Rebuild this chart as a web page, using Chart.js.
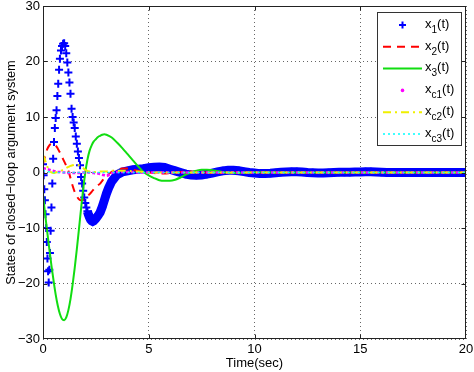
<!DOCTYPE html>
<html>
<head>
<meta charset="utf-8">
<title>States of closed-loop argument system</title>
<script src="https://cdn.jsdelivr.net/npm/chart.js@4.4.1/dist/chart.umd.min.js"></script>
<style>
    body { margin: 0; background: #ffffff; }
    #statesChart { display: block; }
</style>
</head>
<body>
<canvas id="statesChart" width="474" height="372"></canvas>
<script>
// ---- data ----
const xTicks = [0, 5, 10, 15, 20];
const yTicks = [-30, -20, -10, 0, 10, 20, 30];

// x1(t): solver samples, sparse at first, dense later on
const x1Time = [
    0, 0.03, 0.06, 0.09, 0.12, 0.15, 0.18, 0.21, 0.24, 0.27,
    0.3, 0.33, 0.36, 0.4, 0.44, 0.48, 0.52, 0.56, 0.6, 0.64,
    0.68, 0.72, 0.76, 0.8, 0.85, 0.9, 0.95, 1.0, 1.05, 1.1,
    1.15, 1.2, 1.25, 1.3, 1.35, 1.4, 1.45, 1.5, 1.55, 1.6,
    1.65, 1.7, 1.75, 1.8, 1.85, 1.9, 1.95, 2.0, 2.05, 2.1,
    2.15, 2.2, 2.25, 2.3, 2.35, 2.4, 2.5, 2.6, 2.7, 2.8,
    2.9, 3.0, 3.1, 3.25, 3.5, 3.75, 4.0, 4.25, 4.5, 4.75,
    5.0, 5.25, 5.5, 5.75, 6.0, 6.25, 6.5, 6.75, 7.0, 7.25,
    7.5, 7.75, 8.0, 8.25, 8.5, 8.75, 9.0, 9.25, 9.5, 9.75,
    10.0, 10.25, 10.5, 10.75, 11.0, 11.25, 11.5, 11.75, 12.0, 12.25,
    12.5, 12.75, 13.0, 13.25, 13.5, 13.75, 14.0, 14.25, 14.5, 14.75,
    15.0, 15.25, 15.5, 15.75, 16.0, 16.25, 16.5, 16.75, 17.0, 17.25,
    17.5, 17.75, 18.0, 18.25, 18.5, 18.75, 19.0, 19.25, 19.5, 19.75,
    20.0
];
const x1Vals = [
    1.5, -0.5, -3, -5, -7.5, -10, -12.5, -15.5, -17.8, -19.8,
    -17.5, -14.5, -10.5, -6.3, -2, 2.5, 5.5, 8, 9.8, 11.2,
    13.8, 16, 18.5, 20.5, 22, 22.8, 23.2, 23.3, 22.8, 21.5,
    19.8, 18, 16.2, 14.2, 11.5, 10, 9, 8, 6.5, 5.2,
    3.8, 2.6, 1.3, -0.8, -2, -3.3, -4.5, -5.5, -6.3, -7,
    -7.6, -8.1, -8.5, -8.7, -8.8, -8.7, -8.3, -7.8, -7.2, -6.2,
    -5, -3.8, -2.8, -1.6, -0.4, 0.1, 0.3, 0.5, 0.6, 0.7,
    0.85, 0.95, 1, 0.9, 0.6, 0.3, 0, -0.3, -0.45, -0.5,
    -0.45, -0.3, -0.1, 0.1, 0.3, 0.4, 0.4, 0.3, 0.15, 0,
    -0.1, -0.2, -0.2, -0.15, -0.05, 0.05, 0.1, 0.15, 0.15, 0.1,
    0, -0.05, -0.1, -0.1, -0.05, 0, 0.05, 0.05, 0.05, 0.1,
    0.1, 0.15, 0.15, 0.1, 0.05, 0, 0, 0, 0, 0,
    0, 0, 0, 0, 0, 0, 0, 0, 0, 0,
    0
];

// the other states share one time grid
const lineTime = [
    0, 0.1, 0.2, 0.3, 0.4, 0.5, 0.6, 0.7, 0.8, 0.9,
    1.0, 1.1, 1.2, 1.3, 1.4, 1.5, 1.6, 1.7, 1.8, 1.9,
    2.0, 2.1, 2.2, 2.3, 2.4, 2.5, 2.6, 2.7, 2.8, 2.9,
    3.0, 3.25, 3.5, 3.75, 4.0, 4.25, 4.5, 4.75, 5.0, 5.25,
    5.5, 5.75, 6.0, 6.25, 6.5, 6.75, 7.0, 7.25, 7.5, 7.75,
    8, 9, 10, 11, 12, 13, 14, 15, 16, 17,
    18, 19, 20
];
const x2Vals = [
    1.5, 3.0, 4.2, 4.9, 5.2, 5.2, 4.9, 4.3, 3.6, 2.8,
    2.0, 1.2, 0.3, -1.0, -2.4, -3.5, -4.3, -4.8, -5.0, -4.9,
    -4.6, -4.3, -3.9, -3.5, -3.0, -2.6, -2.3, -2.0, -1.5, -1.0,
    -0.6, 0.1, 0.5, 0.7, 0.7, 0.5, 0.3, 0.1, 0, -0.1,
    -0.2, -0.2, -0.1, 0, 0.1, 0.2, 0.2, 0.1, 0, 0,
    -0.1, 0, 0, 0, 0, 0, 0, 0, 0, 0,
    0, 0, 0
];
const x3Vals = [
    -4, -7.5, -10.7, -13.8, -16.8, -19.5, -22, -24, -25.5, -26.4,
    -26.6, -26.1, -24.8, -22.8, -20.2, -17.2, -13.8, -10.2, -6.5, -3,
    0, 2.3, 3.9, 4.9, 5.6, 6.0, 6.4, 6.6, 6.8, 6.9,
    6.8, 6.3, 5.4, 4.4, 3.3, 2.2, 1.1, 0.1, -0.5, -1.0,
    -1.4, -1.5, -1.5, -1.3, -0.9, -0.4, 0, 0.3, 0.5, 0.5,
    0.4, -0.1, 0.05, 0, 0, 0, 0, 0, 0, 0,
    0, 0, 0
];
const xc1Vals = [
    0.8, 0.7, 0.6, 0.5, 0.4, 0.3, 0.2, 0.1, 0.1, 0,
    0, 0, -0.1, -0.1, -0.1, -0.1, -0.1, -0.1, 0, 0,
    0, 0, 0, -0.1, -0.1, -0.2, -0.2, -0.3, -0.4, -0.5,
    -0.6, -0.1, 0.1, 0.1, 0.1, 0.1, 0, 0, 0, 0,
    0, 0, 0, 0, 0, 0, 0, 0, 0, 0,
    0, 0, 0, 0, 0, 0, 0, 0, 0, 0,
    0, 0, 0
];
const xc2Vals = [
    3.2, 2.2, 1.1, 0.4, 0, -0.1, 0, 0.1, 0.2, 0.4,
    0.6, 0.8, 1.0, 1.2, 1.3, 1.4, 1.4, 1.3, 1.1, 0.8,
    0.5, 0.3, 0.2, 0.1, 0.1, 0.1, 0.1, 0.2, 0.2, 0.2,
    0.2, 0.3, 0.3, 0.3, 0.3, 0.2, 0.2, 0.1, 0, 0,
    0, 0, 0, 0, 0, 0, 0, 0, 0, 0,
    0, 0, 0, 0, 0, 0, 0, 0, 0, 0,
    0, 0, 0
];
const xc3Vals = [
    0.4, 0.3, 0.2, 0.1, 0, 0, 0, 0, 0, 0,
    0, 0, 0, 0, 0, 0, 0, 0, 0, 0,
    0, 0, 0, 0, 0, 0, 0, 0, 0, 0,
    0, 0, 0, 0, 0, 0, 0, 0, 0, 0,
    0, 0, 0, 0, 0, 0, 0, 0, 0, 0,
    0, 0, 0, 0, 0, 0, 0, 0, 0, 0,
    0, 0, 0
];

// legend names: [main, subscript]
const seriesNames = [["x", "1"], ["x", "2"], ["x", "3"], ["x", "c1"], ["x", "c2"], ["x", "c3"]];

const BLUE = "#0000ff", RED = "#ff0000", GREEN = "#11dd11";
const MAGENTA = "#ff00ff", YELLOW = "#f0f000", CYAN = "#00ffff";
const FONT = "'Liberation Sans', Arial, Helvetica, sans-serif";

function pairs(times, vals) {
    return times.map((t, i) => ({ x: t, y: vals[i] }));
}

function minusLabel(v) {
    return v < 0 ? "\u2212" + Math.abs(v) : String(v);
}

// box, inward tick marks and the boxed legend (MATLAB look)
const matlabFrame = {
    id: "matlabFrame",
    afterDatasetsDraw(chart) {
        const { ctx, chartArea: a, scales } = chart;
        const L = a.left + 0.5, R = a.right - 0.5, T = a.top + 0.5, B = a.bottom - 0.5;
        ctx.save();
        ctx.strokeStyle = "#222";
        ctx.lineWidth = 1;
        ctx.setLineDash([]);
        ctx.strokeRect(L, T, R - L, B - T);

        const tl = 4;
        ctx.beginPath();
        xTicks.slice(1, -1).forEach(v => {
            const px = Math.round(scales.x.getPixelForValue(v)) + 0.5;
            ctx.moveTo(px, B); ctx.lineTo(px, B - tl);
            ctx.moveTo(px, T); ctx.lineTo(px, T + tl);
        });
        yTicks.slice(1, -1).forEach(v => {
            const py = Math.round(scales.y.getPixelForValue(v)) + 0.5;
            ctx.moveTo(L, py); ctx.lineTo(L + tl, py);
            ctx.moveTo(R, py); ctx.lineTo(R - tl, py);
        });
        ctx.stroke();

        // legend box
        const boxL = 377.5, boxT = 12.5, boxR = a.right - 4.5, boxB = 145.5;
        ctx.fillStyle = "#fff";
        ctx.fillRect(boxL, boxT, boxR - boxL, boxB - boxT);
        ctx.strokeStyle = "#333";
        ctx.strokeRect(boxL, boxT, boxR - boxL, boxB - boxT);

        const sx0 = 383, sx1 = 422, sxc = 402.5, textX = 425;
        chart.data.datasets.forEach((ds, i) => {
            const y = 25 + i * 21.8;
            ctx.save();
            if (ds.legendKind === "cross") {
                ctx.strokeStyle = ds.pointBorderColor;
                ctx.lineWidth = 2;
                ctx.beginPath();
                ctx.moveTo(sxc - 3.5, y); ctx.lineTo(sxc + 3.5, y);
                ctx.moveTo(sxc, y - 3.5); ctx.lineTo(sxc, y + 3.5);
                ctx.stroke();
            } else if (ds.legendKind === "dot") {
                ctx.fillStyle = ds.borderColor;
                ctx.beginPath();
                ctx.arc(sxc, y, 1.8, 0, Math.PI * 2);
                ctx.fill();
            } else {
                ctx.strokeStyle = ds.borderColor;
                ctx.lineWidth = ds.borderWidth;
                ctx.setLineDash(ds.borderDash || []);
                ctx.beginPath();
                ctx.moveTo(sx0, y); ctx.lineTo(sx1, y);
                ctx.stroke();
            }
            ctx.restore();

            const name = seriesNames[i];
            const base = y + 2.8;
            ctx.fillStyle = "#000";
            ctx.textBaseline = "alphabetic";
            ctx.textAlign = "left";
            ctx.font = "13px " + FONT;
            ctx.fillText(name[0], textX, base);
            let w = ctx.measureText(name[0]).width;
            ctx.font = "10px " + FONT;
            ctx.fillText(name[1], textX + w, base + 5);
            w += ctx.measureText(name[1]).width;
            ctx.font = "13px " + FONT;
            ctx.fillText("(t)", textX + w, base);
        });
        ctx.restore();
    }
};

document.addEventListener("DOMContentLoaded", function () {
    const ctx = document.getElementById("statesChart").getContext("2d");

    const lineCommon = {
        pointRadius: 0,
        fill: false,
        cubicInterpolationMode: "monotone"
    };

    new Chart(ctx, {
        type: "line",
        data: {
            datasets: [
                {
                    label: "x1(t)",
                    data: pairs(x1Time, x1Vals),
                    legendKind: "cross",
                    showLine: true,
                    borderWidth: 9,
                    borderColor: BLUE,
                    segment: {
                        // markers only while the samples are sparse, a solid band once they pile up
                        borderColor: c => c.p0.parsed.x >= 2.1 ? BLUE : "rgba(0,0,0,0)"
                    },
                    pointStyle: "cross",
                    pointRadius: 4,
                    pointBorderWidth: 2,
                    pointBorderColor: BLUE,
                    pointBackgroundColor: BLUE,
                    order: 6
                },
                Object.assign({
                    label: "x2(t)", data: pairs(lineTime, x2Vals), legendKind: "line",
                    borderColor: RED, borderWidth: 2, borderDash: [8, 6], order: 5
                }, lineCommon),
                Object.assign({
                    label: "x3(t)", data: pairs(lineTime, x3Vals), legendKind: "line",
                    borderColor: GREEN, borderWidth: 2, order: 4
                }, lineCommon),
                Object.assign({
                    label: "xc1(t)", data: pairs(lineTime, xc1Vals), legendKind: "dot",
                    borderColor: MAGENTA, borderWidth: 2.5, borderDash: [3, 2], order: 3
                }, lineCommon),
                Object.assign({
                    label: "xc2(t)", data: pairs(lineTime, xc2Vals), legendKind: "line",
                    borderColor: YELLOW, borderWidth: 2, borderDash: [8, 4, 2, 4], order: 2
                }, lineCommon),
                Object.assign({
                    label: "xc3(t)", data: pairs(lineTime, xc3Vals), legendKind: "line",
                    borderColor: CYAN, borderWidth: 1.5, borderDash: [2, 3], order: 1
                }, lineCommon)
            ]
        },
        options: {
            responsive: false,
            animation: false,
            devicePixelRatio: 1,
            layout: { padding: { top: 6, right: 8, bottom: 0, left: 0 } },
            plugins: {
                legend: { display: false },
                tooltip: { enabled: false }
            },
            scales: {
                x: {
                    type: "linear",
                    min: 0,
                    max: 20,
                    afterBuildTicks: s => { s.ticks = xTicks.map(v => ({ value: v })); },
                    afterFit: s => { s.height = 33; s.paddingLeft = 0; s.paddingRight = 0; },
                    ticks: {
                        color: "#000",
                        padding: 3,
                        maxRotation: 0,
                        font: { family: FONT, size: 13 },
                        callback: minusLabel
                    },
                    grid: { color: "rgba(0,0,0,0.6)", lineWidth: 1, drawTicks: false },
                    border: { display: false, dash: [1, 3] },
                    title: {
                        display: true,
                        text: "Time(sec)",
                        color: "#000",
                        font: { family: FONT, size: 13 },
                        padding: { top: 0, bottom: 1 }
                    }
                },
                y: {
                    type: "linear",
                    min: -30,
                    max: 30,
                    afterBuildTicks: s => { s.ticks = yTicks.map(v => ({ value: v })); },
                    afterFit: s => { s.width = 43; s.paddingTop = 0; s.paddingBottom = 0; },
                    ticks: {
                        color: "#000",
                        padding: 3,
                        font: { family: FONT, size: 13 },
                        callback: minusLabel
                    },
                    grid: { color: "rgba(0,0,0,0.6)", lineWidth: 1, drawTicks: false },
                    border: { display: false, dash: [1, 3] },
                    title: {
                        display: true,
                        text: "States of closed\u2212loop argument system",
                        color: "#000",
                        font: { family: FONT, size: 12.8 },
                        padding: { top: 4, bottom: 0 }
                    }
                }
            }
        },
        plugins: [matlabFrame]
    });
});
</script>
</body>
</html>
